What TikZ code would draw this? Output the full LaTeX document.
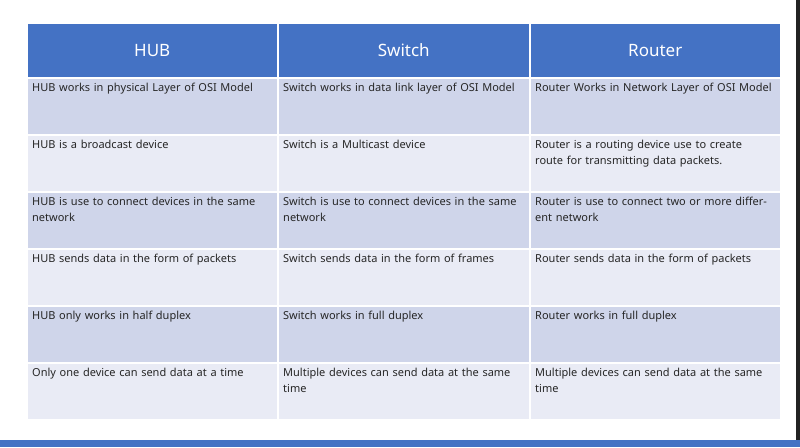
\documentclass[tikz,border=0pt]{standalone}
\usepackage{fontspec}
\setmainfont{Noto Sans}
\usetikzlibrary{positioning}
\definecolor{hdrblue}{HTML}{4472C4}
\definecolor{rowdark}{HTML}{CFD5EA}
\definecolor{rowlight}{HTML}{E9EBF5}
\definecolor{edgegray}{HTML}{222222}

\tikzset{
  cellbox/.style={draw=white, line width=1.5pt, minimum height=57pt, anchor=north west, inner sep=0pt},
  celltext/.style={anchor=north west, text width=238pt, align=left, font=\fontsize{11pt}{15.5pt}\selectfont, text=black!85, inner sep=0pt},
  hdrtext/.style={text=white, font=\fontsize{17pt}{20pt}\selectfont}
}

\begin{document}
\begin{tikzpicture}[x=1pt, y=-1pt]
  \useasboundingbox (0,0) rectangle (800,447);
  \fill[white] (0,0) rectangle (800,447);
  \fill[edgegray] (796,0) rectangle (800,447);
  \fill[hdrblue] (0,440) rectangle (800,447);

  % header
  \foreach \c/\x/\w/\t in {a/26/251/HUB, b/277/252/Switch, c/529/251/Router}{
    \node[cellbox, fill=hdrblue, minimum width=\w pt, minimum height=55pt] (h\c) at (\x,22) {};
    \node[hdrtext] at (h\c.center) {\t};
  }

  % body rows
  \foreach \r/\y/\col/\ta/\tb/\tc in {
    1/77/rowdark/{HUB works in physical Layer of OSI Model}/{Switch works in data link layer of OSI Model}/{Router Works in Network Layer of OSI Model},
    2/134/rowlight/{HUB is a broadcast device}/{Switch is a Multicast device}/{Router is a routing device use to create route for transmitting data packets.},
    3/191/rowdark/{HUB is use to connect devices in the same network}/{Switch is use to connect devices in the same network}/{Router is use to connect two or more different network},
    4/248/rowlight/{HUB sends data in the form of packets}/{Switch sends data in the form of frames}/{Router sends data in the form of packets},
    5/305/rowdark/{HUB only works in half duplex}/{Switch works in full duplex}/{Router works in full duplex},
    6/362/rowlight/{Only one device can send data at a time}/{Multiple devices can send data at the same time}/{Multiple devices can send data at the same time}}{
    \node[cellbox, fill=\col, minimum width=251pt] (a\r) at (26,\y) {};
    \node[cellbox, fill=\col, minimum width=252pt] (b\r) at (277,\y) {};
    \node[cellbox, fill=\col, minimum width=251pt] (c\r) at (529,\y) {};
    \node[celltext] at ([xshift=6pt, yshift=-6pt]a\r.north west) {\ta};
    \node[celltext] at ([xshift=6pt, yshift=-6pt]b\r.north west) {\tb};
    \node[celltext] at ([xshift=6pt, yshift=-6pt]c\r.north west) {\tc};
  }
\end{tikzpicture}
\end{document}
